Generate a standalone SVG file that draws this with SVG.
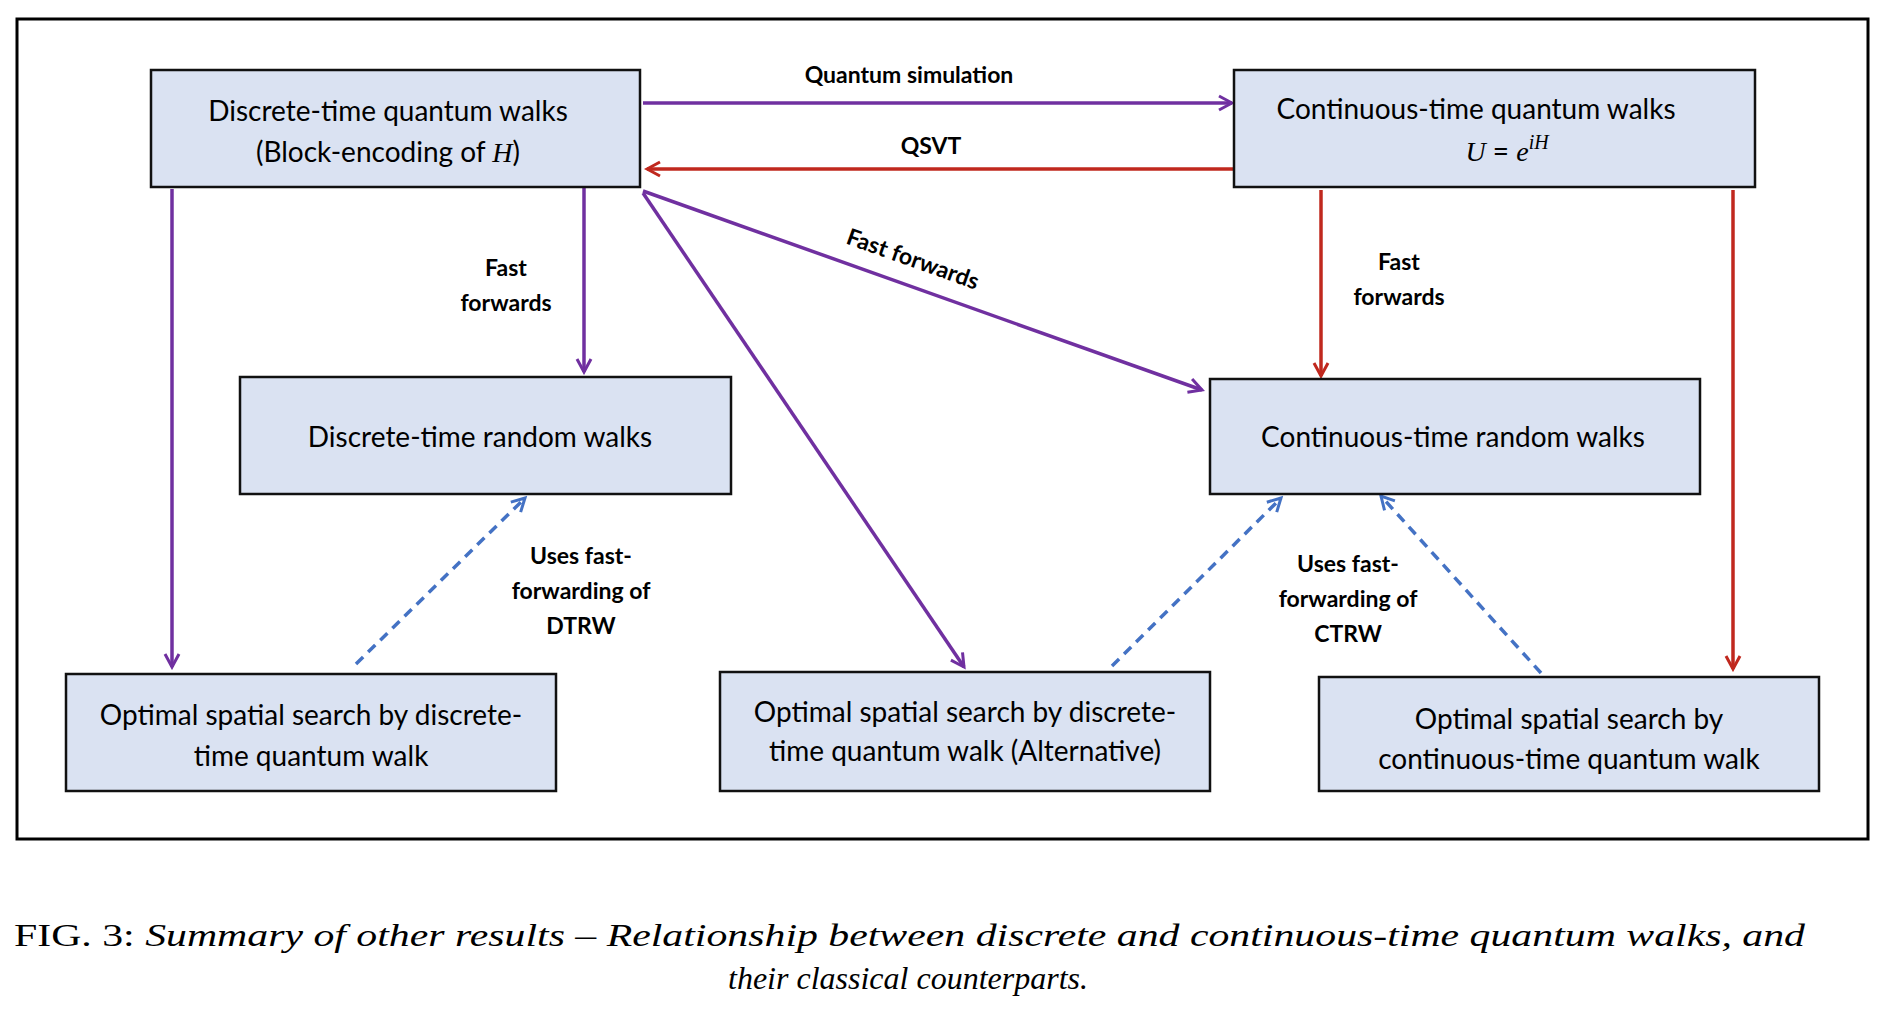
<svg xmlns="http://www.w3.org/2000/svg" width="1882" height="1014" viewBox="0 0 1882 1014">
<style>
.box{fill:#dae2f2;stroke:#111;stroke-width:2.5}
.t{font-family:Lato,"Open Sans",sans-serif;font-size:28px;fill:#000;text-anchor:middle}
.m{font-family:"Liberation Serif",serif;font-style:italic}
.l{font-family:Lato,"Open Sans",sans-serif;font-size:23px;font-weight:bold;fill:#000;text-anchor:middle}
.p{stroke:#7030a0;stroke-width:3.5;fill:none}
.r{stroke:#c0281e;stroke-width:3.5;fill:none}
.b{stroke:#4472c4;stroke-width:3.5;fill:none;stroke-dasharray:10 7}
.cap{font-family:"Liberation Serif",serif;font-size:32px;fill:#000}
</style>
<defs>
<marker id="ap" markerWidth="18" markerHeight="18" refX="15" refY="9" orient="auto" markerUnits="userSpaceOnUse" viewBox="0 0 18 18"><path d="M2,2 L15,9 L2,16" fill="none" stroke="#7030a0" stroke-width="3"/></marker>
<marker id="ar" markerWidth="18" markerHeight="18" refX="15" refY="9" orient="auto" markerUnits="userSpaceOnUse" viewBox="0 0 18 18"><path d="M2,2 L15,9 L2,16" fill="none" stroke="#c0281e" stroke-width="3"/></marker>
<marker id="ab" markerWidth="18" markerHeight="18" refX="15" refY="9" orient="auto" markerUnits="userSpaceOnUse" viewBox="0 0 18 18"><path d="M2,2 L15,9 L2,16" fill="none" stroke="#4472c4" stroke-width="3"/></marker>
</defs>
<rect x="0" y="0" width="1882" height="1014" fill="#fff"/>
<rect x="17" y="19" width="1851" height="820" fill="none" stroke="#000" stroke-width="3"/>
<g id="connectors">
<line class="p" x1="643" y1="103" x2="1232" y2="103" marker-end="url(#ap)"/>
<line class="r" x1="1234" y1="169" x2="647" y2="169" marker-end="url(#ar)"/>
<line class="p" x1="172" y1="189" x2="172" y2="667" marker-end="url(#ap)"/>
<line class="p" x1="584" y1="187" x2="584" y2="372" marker-end="url(#ap)"/>
<line class="p" x1="643" y1="191" x2="1202" y2="390" marker-end="url(#ap)"/>
<line class="p" x1="643" y1="193" x2="964" y2="667" marker-end="url(#ap)"/>
<line class="r" x1="1321" y1="190" x2="1321" y2="376" marker-end="url(#ar)"/>
<line class="r" x1="1733" y1="190" x2="1733" y2="669" marker-end="url(#ar)"/>
<line class="b" x1="356" y1="664" x2="525" y2="498" marker-end="url(#ab)"/>
<line class="b" x1="1112" y1="666" x2="1281" y2="498" marker-end="url(#ab)"/>
<line class="b" x1="1541" y1="673" x2="1381" y2="496" marker-end="url(#ab)"/>
<text class="l" x="909" y="83">Quantum simulation</text>
<text class="l" x="931" y="154">QSVT</text>
<text class="l" x="506" y="276">Fast</text>
<text class="l" x="506" y="311">forwards</text>
<text class="l" x="913" y="267" transform="rotate(19.6 913 259)">Fast forwards</text>
<text class="l" x="1399" y="270">Fast</text>
<text class="l" x="1399" y="305">forwards</text>
<text class="l" x="581" y="564">Uses fast-</text>
<text class="l" x="581" y="599">forwarding of</text>
<text class="l" x="581" y="634">DTRW</text>
<text class="l" x="1348" y="572">Uses fast-</text>
<text class="l" x="1348" y="607">forwarding of</text>
<text class="l" x="1348" y="642">CTRW</text>
</g>
<g id="dtqw"><rect class="box" x="151" y="70" width="489" height="117"/>
<text class="t" x="388" y="121">Discrete-time quantum walks</text>
<text class="t" x="388" y="162">(Block-encoding of <tspan class="m">H</tspan>)</text></g>
<g id="ctqw"><rect class="box" x="1234" y="70" width="521" height="117"/>
<text class="t" x="1476" y="119">Continuous-time quantum walks</text>
<text class="t" x="1507" y="161"><tspan class="m">U</tspan> = <tspan class="m">e</tspan><tspan class="m" font-size="20" dy="-12">iH</tspan></text></g>
<g id="dtrw"><rect class="box" x="240" y="377" width="491" height="117"/>
<text class="t" x="480" y="447">Discrete-time random walks</text></g>
<g id="ctrw"><rect class="box" x="1210" y="379" width="490" height="115"/>
<text class="t" x="1453" y="447">Continuous-time random walks</text></g>
<g id="ossdt"><rect class="box" x="66" y="674" width="490" height="117"/>
<text class="t" x="311" y="725">Optimal spatial search by discrete-</text>
<text class="t" x="311" y="766">time quantum walk</text></g>
<g id="ossalt"><rect class="box" x="720" y="672" width="490" height="119"/>
<text class="t" x="965" y="722">Optimal spatial search by discrete-</text>
<text class="t" x="965" y="761">time quantum walk (Alternative)</text></g>
<g id="ossct"><rect class="box" x="1319" y="677" width="500" height="114"/>
<text class="t" x="1569" y="729">Optimal spatial search by</text>
<text class="t" x="1569" y="769">continuous-time quantum walk</text></g>
<text class="cap" x="14" y="946" textLength="1791" lengthAdjust="spacingAndGlyphs">FIG. 3: <tspan font-style="italic">Summary of other results – Relationship between discrete and continuous-time quantum walks, and</tspan></text>
<text class="cap" x="908" y="989" text-anchor="middle" font-style="italic">their classical counterparts.</text>
</svg>
